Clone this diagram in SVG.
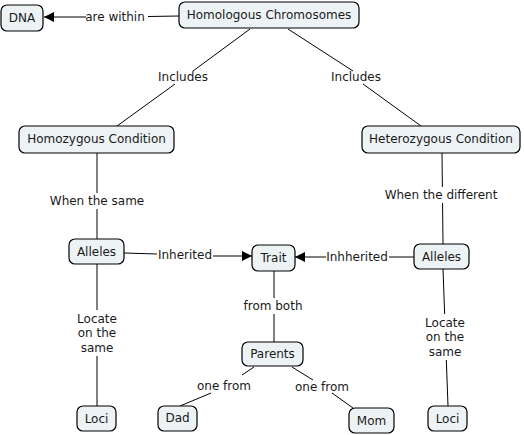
<svg xmlns="http://www.w3.org/2000/svg" width="524" height="435" viewBox="0 0 524 435">
<style>
.n rect{fill:#edf3f4;stroke:#000;stroke-width:1.2}
text{font-family:"DejaVu Sans",Verdana,sans-serif;font-size:12px;fill:#1a1a1a;text-anchor:middle;dominant-baseline:central}
.c line,.c polyline{stroke:#000;stroke-width:1;fill:none}
</style>
<defs>
<marker id="ah" viewBox="0 0 10 10" refX="10" refY="5" markerWidth="10" markerHeight="10" markerUnits="userSpaceOnUse" orient="auto">
<path d="M0,0L10,5L0,10z" fill="#000"/>
</marker>
</defs>
<rect width="524" height="435" fill="#fff"/>
<g class="c" id="connectors">
<line x1="179" y1="16" x2="148" y2="16.5"/>
<line x1="86" y1="17" x2="44" y2="17" marker-end="url(#ah)"/>
<text x="115" y="17">are within</text>
<line x1="250" y1="29" x2="193" y2="71"/>
<line x1="175" y1="84" x2="117" y2="126"/>
<text x="183" y="77">Includes</text>
<line x1="288" y1="29" x2="353" y2="71"/>
<line x1="363" y1="84" x2="421" y2="126"/>
<text x="356" y="77">Includes</text>
<line x1="97" y1="153" x2="97" y2="239"/>
<rect x="48" y="193" width="100" height="16" fill="#fff"/>
<text x="97" y="201">When the same</text>
<line x1="442" y1="153" x2="443" y2="244"/>
<rect x="384" y="187" width="115" height="16" fill="#fff"/>
<text x="441" y="195">When the different</text>
<line x1="124" y1="253" x2="157" y2="254"/>
<line x1="213" y1="256" x2="252" y2="256" marker-end="url(#ah)"/>
<text x="185" y="255">Inherited</text>
<line x1="414" y1="257" x2="389" y2="257"/>
<line x1="326" y1="257" x2="295" y2="257" marker-end="url(#ah)"/>
<text x="357" y="257">Inhherited</text>
<line x1="274" y1="271" x2="274" y2="342"/>
<rect x="242" y="298" width="64" height="16" fill="#fff"/>
<text x="273" y="306">from both</text>
<line x1="97" y1="264" x2="97" y2="406"/>
<rect x="74" y="310" width="46" height="46" fill="#fff"/>
<text x="97" y="319">Locate</text>
<text x="97" y="333">on the</text>
<text x="97" y="348">same</text>
<line x1="443" y1="269" x2="448" y2="406"/>
<rect x="422" y="314" width="46" height="46" fill="#fff"/>
<text x="445" y="323">Locate</text>
<text x="445" y="337">on the</text>
<text x="445" y="352">same</text>
<line x1="254" y1="367" x2="242" y2="375"/>
<line x1="211" y1="393" x2="180" y2="406"/>
<text x="224" y="386">one from</text>
<line x1="292" y1="367" x2="313" y2="380"/>
<line x1="332" y1="393" x2="353" y2="408"/>
<text x="322" y="387">one from</text>
</g>
<g class="n" id="n-homologous"><rect x="179" y="2" width="180" height="26" rx="6"/><text x="269" y="15">Homologous Chromosomes</text></g>
<g class="n" id="n-dna"><rect x="1" y="5" width="42" height="26" rx="6"/><text x="22" y="18">DNA</text></g>
<g class="n" id="n-homozygous"><rect x="19" y="126" width="155" height="27" rx="6"/><text x="96.5" y="139">Homozygous Condition</text></g>
<g class="n" id="n-heterozygous"><rect x="362" y="126" width="158" height="27" rx="6"/><text x="441" y="139">Heterozygous Condition</text></g>
<g class="n" id="n-alleles-left"><rect x="69" y="239" width="55" height="25" rx="6"/><text x="96.5" y="252">Alleles</text></g>
<g class="n" id="n-alleles-right"><rect x="414" y="244" width="55" height="25" rx="6"/><text x="441.5" y="257">Alleles</text></g>
<g class="n" id="n-trait"><rect x="252" y="245" width="43" height="26" rx="6"/><text x="273.5" y="258">Trait</text></g>
<g class="n" id="n-parents"><rect x="242" y="342" width="61" height="24" rx="6"/><text x="272.5" y="354">Parents</text></g>
<g class="n" id="n-loci-left"><rect x="77" y="406" width="39" height="25" rx="6"/><text x="96.5" y="419">Loci</text></g>
<g class="n" id="n-dad"><rect x="158" y="406" width="39" height="25" rx="6"/><text x="177.5" y="418">Dad</text></g>
<g class="n" id="n-mom"><rect x="349" y="408" width="45" height="25" rx="6"/><text x="371.5" y="421">Mom</text></g>
<g class="n" id="n-loci-right"><rect x="428" y="406" width="39" height="25" rx="6"/><text x="447.5" y="419">Loci</text></g>
</svg>
